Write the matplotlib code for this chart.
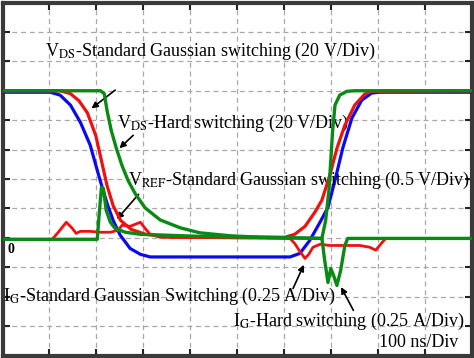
import matplotlib
matplotlib.use("Agg")
import matplotlib.pyplot as plt
import numpy as np

# escala: tempo em ns (100 ns/Div), amplitude em divisoes
tempo_vref = [0, 102, 123, 145, 166, 187, 208, 223, 236, 251, 272, 294, 315, 613, 634, 655, 677, 694, 709, 726, 745, 766, 787, 804, 1000]
vref_std = [4.95, 4.95, 4.85, 4.51, 3.93, 3.15, 1.96, 1.17, 0.59, 0.09, -0.36, -0.56, -0.65, -0.65, -0.53, -0.09, 0.53, 1.04, 1.96, 3.08, 4.07, 4.68, 4.92, 4.95, 4.95]

tempo_vds = [0, 123, 145, 163, 181, 199, 211, 223, 236, 252, 274, 305, 362, 602, 623, 645, 666, 681, 698, 713, 730, 751, 772, 787, 1000]
vds_std = [5.0, 5.0, 4.9, 4.66, 4.25, 3.47, 2.62, 1.77, 1.09, 0.59, 0.29, 0.12, 0.02, 0.02, 0.12, 0.39, 0.87, 1.28, 2.13, 3.04, 3.83, 4.51, 4.88, 4.98, 5.0]

tempo_vds_hard = [0, 209, 217, 223, 232, 243, 255, 268, 283, 304, 336, 379, 421, 485, 549, 681, 689, 696, 700, 704, 709, 719, 734, 751, 1000]
vds_hard = [5.0, 5.0, 4.9, 4.32, 3.64, 3.03, 2.45, 1.94, 1.50, 1.02, 0.61, 0.34, 0.17, 0.07, 0.02, -0.02, 0.59, 1.62, 2.64, 3.66, 4.51, 4.85, 4.98, 5.0, 5.0]

tempo_ig_hard = [0, 202, 206, 211, 215, 221, 230, 240, 262, 294, 421, 681, 687, 694, 700, 706, 713, 721, 730, 736, 1000]
ig_hard = [-0.05, -0.05, 0.77, 1.72, 1.68, 0.94, 0.53, 0.32, 0.19, 0.12, 0.05, -0.02, -0.77, -1.52, -1.04, -1.28, -1.62, -1.11, -0.26, -0.02, -0.02]

tempo_ig_std = [0, 106, 119, 136, 149, 157, 166, 187, 209, 230, 247, 255, 272, 283, 294, 304, 315, 336, 613, 623, 634, 645, 653, 662, 677, 698, 762, 783, 796, 804, 817, 1000]
ig_std = [-0.05, -0.05, 0.19, 0.53, 0.32, 0.15, 0.22, 0.22, 0.19, 0.19, 0.26, 0.43, 0.39, 0.46, 0.53, 0.32, 0.12, 0.02, -0.02, -0.19, -0.46, -0.70, -0.56, -0.32, -0.22, -0.26, -0.26, -0.32, -0.42, -0.26, -0.02, -0.02]

verde = "#0a8a14"

plt.rcParams["font.family"] = "Liberation Serif"
plt.rcParams["mathtext.fontset"] = "stix"

fig = plt.figure(figsize=(4.74, 3.58), dpi=100)
ax = fig.add_axes([2.5 / 474, 2.5 / 358, 469 / 474, 353 / 358])

ax.plot(tempo_vref, vref_std, color="#0a0af0", lw=2.3, zorder=3)
ax.plot(tempo_vds, vds_std, color="#f01010", lw=2.3, zorder=4)
ax.plot(tempo_ig_std, ig_std, color="#f01010", lw=2.0, zorder=4)
ax.plot(tempo_vds_hard, vds_hard, color=verde, lw=2.4, zorder=5)
ax.plot(tempo_ig_hard, ig_hard, color=verde, lw=2.4, zorder=5)

ax.set_xlim(0, 1000)
ax.set_ylim(-4, 8)
ax.set_xticks(np.arange(100, 1000, 100))
ax.set_yticks(np.arange(-3, 8, 1))
ax.tick_params(direction="in", length=5, width=1.5, color="#222222",
               top=True, right=True, labelbottom=False, labelleft=False)
ax.grid(True, color="#a8a8a8", linestyle=(0, (4, 3)), linewidth=0.9)
for s in ax.spines.values():
    s.set_linewidth(3)
    s.set_color("#3a3a3a")

fs = 13
ax.text(91, 6.2, r"V$_{\mathrm{DS}}$-Standard Gaussian switching (20 V/Div)", fontsize=fs, va="baseline")
ax.text(245, 3.75, r"V$_{\mathrm{DS}}$-Hard switching (20 V/Div)", fontsize=fs, va="baseline")
ax.text(268, 1.8, r"V$_{\mathrm{REF}}$-Standard Gaussian switching (0.5 V/Div)", fontsize=fs, va="baseline")
ax.text(2, -2.15, r"I$_{\mathrm{G}}$-Standard Gaussian Switching (0.25 A/Div)", fontsize=fs, va="baseline")
ax.text(492, -3.0, r"I$_{\mathrm{G}}$-Hard switching (0.25 A/Div)", fontsize=fs, va="baseline")
ax.text(972, -3.7, "100 ns/Div", fontsize=fs, va="baseline", ha="right")
ax.text(11, -0.5, "0", fontsize=10, fontweight="bold", va="baseline")

seta = dict(arrowstyle="-|>", color="black", lw=1.2, mutation_scale=9)
ax.annotate("", xy=(185, 4.34), xytext=(245, 5.08), arrowprops=seta)
ax.annotate("", xy=(245, 2.98), xytext=(283, 3.55), arrowprops=seta)
ax.annotate("", xy=(240, 0.56), xytext=(294, 1.55), arrowprops=seta)
ax.annotate("", xy=(645, -0.83), xytext=(617, -1.81), arrowprops=seta)
ax.annotate("", xy=(719, -1.59), xytext=(751, -2.55), arrowprops=seta)

fig.savefig("out.png", dpi=100)
